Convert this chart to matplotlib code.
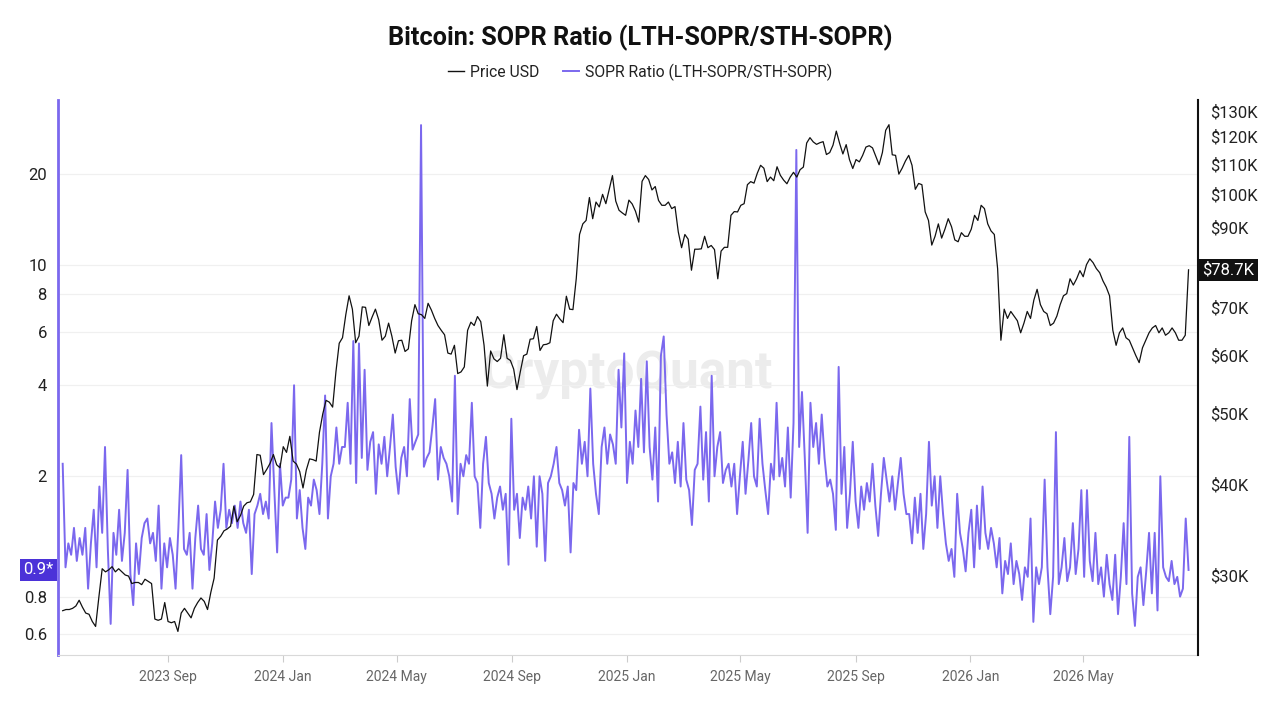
import numpy as np
import pandas as pd
import matplotlib
matplotlib.use("Agg")
import matplotlib.pyplot as plt
from matplotlib.lines import Line2D
from matplotlib.ticker import FixedLocator, FixedFormatter, NullLocator
import matplotlib.transforms as mtransforms

plt.rcParams['font.family'] = ['Roboto', 'DejaVu Sans']

# SOPR ratio, one reading every 3 days from 2023-05-12
sopr = [
    2.2, 1.0, 1.2, 1.1, 1.35, 1.05, 1.25, 1.1, 1.35, 0.85,
    1.2, 1.55, 1.0, 1.85, 1.3, 2.5, 1.15, 0.65, 1.3, 1.1,
    1.55, 1.05, 1.3, 2.1, 0.95, 0.75, 1.2, 0.95, 1.25, 1.4,
    1.45, 1.2, 1.3, 1.05, 1.6, 0.85, 1.2, 1.0, 1.25, 1.1,
    0.85, 1.35, 2.35, 1.15, 1.1, 1.3, 0.85, 1.25, 1.6, 1.15,
    1.1, 1.5, 0.98, 1.2, 1.65, 1.35, 1.55, 2.2, 1.35, 1.55,
    1.4, 1.6, 1.35, 1.65, 1.4, 1.3, 1.55, 0.95, 1.5, 1.6,
    1.75, 1.5, 1.65, 1.45, 3.0, 1.8, 1.12, 2.2, 1.6, 1.7,
    1.7, 1.95, 4.0, 1.45, 1.8, 1.35, 1.15, 1.7, 1.6, 1.95,
    1.8, 1.5, 2.2, 3.7, 1.45, 2.0, 2.2, 2.9, 2.2, 2.5,
    2.5, 3.5, 2.2, 5.6, 1.9, 5.5, 2.3, 4.5, 2.1, 2.6,
    2.8, 1.75, 2.55, 2.2, 2.7, 2.0, 2.5, 3.2, 2.15, 1.75,
    2.3, 2.5, 2.0, 3.6, 2.45, 2.6, 2.75, 29.0, 2.15, 2.3,
    2.4, 2.9, 3.6, 1.95, 2.5, 2.3, 2.2, 2.0, 1.65, 4.3,
    1.5, 2.2, 2.0, 2.35, 2.2, 3.5, 2.0, 1.9, 1.35, 2.2,
    2.7, 1.9, 1.75, 1.45, 1.7, 1.85, 1.55, 1.75, 1.02, 3.1,
    1.55, 1.75, 1.25, 1.7, 1.55, 1.85, 1.45, 2.0, 1.17, 2.0,
    1.75, 1.05, 1.9, 2.0, 2.2, 2.5, 1.9, 1.8, 1.6, 1.85,
    1.12, 1.9, 1.8, 2.85, 2.2, 2.6, 2.0, 3.9, 2.2, 1.75,
    1.5, 2.5, 2.9, 2.2, 2.75, 2.55, 2.2, 4.5, 2.9, 5.1,
    1.9, 2.6, 2.2, 3.3, 2.5, 4.2, 2.4, 4.8, 2.5, 1.95,
    2.9, 1.65, 5.0, 5.8, 3.2, 2.2, 2.4, 1.9, 2.6, 1.85,
    3.0, 1.95, 1.8, 1.38, 2.1, 2.2, 3.4, 1.95, 2.8, 1.65,
    4.3, 2.0, 2.5, 2.8, 1.9, 2.1, 2.2, 1.85, 2.2, 1.5,
    2.0, 2.6, 1.75, 2.25, 3.0, 2.0, 1.85, 3.1, 2.2, 1.8,
    1.5, 2.2, 1.95, 3.5, 2.0, 2.3, 1.85, 2.9, 1.7, 3.0,
    24.0, 2.5, 3.8, 2.3, 1.3, 3.5, 2.5, 3.0, 2.2, 3.2,
    2.3, 1.85, 1.95, 1.75, 1.33, 4.6, 1.75, 2.5, 1.35, 1.75,
    2.6, 1.65, 1.35, 1.85, 1.55, 1.9, 1.65, 2.2, 1.6, 1.27,
    1.75, 2.3, 1.95, 1.65, 2.0, 1.55, 1.9, 2.3, 1.75, 1.5,
    1.5, 1.2, 1.7, 1.3, 1.75, 1.15, 1.5, 2.6, 1.6, 2.0,
    1.35, 2.0, 1.5, 1.2, 1.05, 1.15, 0.93, 1.75, 1.3, 1.15,
    0.97, 1.3, 1.55, 1.0, 1.6, 1.15, 1.85, 1.3, 1.15, 1.35,
    1.2, 1.0, 1.25, 0.82, 1.05, 0.95, 1.2, 0.88, 1.05, 0.95,
    0.78, 1.0, 0.93, 1.45, 0.66, 1.0, 0.88, 1.0, 1.95, 1.0,
    0.7, 0.93, 2.8, 0.88, 1.0, 1.25, 0.9, 1.0, 1.4, 0.95,
    1.15, 1.8, 0.93, 1.8, 1.05, 0.9, 1.3, 0.88, 1.0, 0.8,
    1.1, 0.88, 0.78, 1.1, 0.7, 0.93, 1.4, 0.88, 2.7, 0.82,
    0.64, 0.93, 1.0, 0.75, 0.97, 1.3, 0.82, 1.3, 0.72, 2.0,
    1.0, 0.93, 0.9, 1.05, 0.88, 0.93, 0.8, 0.85, 1.45, 0.98,
]

# BTC price in thousand USD, every 3.5 days from 2023-05-12
price_k = [
    # 2023
    26.8, 26.9, 26.9, 27.0, 27.2, 27.7, 27.1, 26.6, 26.5, 25.9,
    25.5, 28.0, 30.6, 30.3, 30.5, 30.8, 30.3, 30.6, 30.3, 30.0,
    29.9, 29.2, 29.3, 29.3, 29.1, 29.6, 29.4, 29.2, 26.1, 26.0,
    26.1, 27.5, 25.9, 25.8, 25.9, 25.1, 26.6, 27.0, 26.6, 26.2,
    27.0, 27.5, 27.9, 27.6, 26.9, 28.4, 29.7, 33.5, 33.9, 34.5,
    34.7, 35.0, 37.3, 35.5, 36.2, 37.3, 37.7, 37.8, 38.7, 43.9,
    43.8, 41.2, 41.9, 42.7, 43.9, 42.5, 42.1, 45.0,
    # 2024
    44.2, 46.5, 43.0, 42.6, 41.6, 39.5, 41.8, 43.3, 43.2, 43.0,
    47.1, 49.9, 52.1, 51.8, 51.0, 57.0, 62.4, 63.5, 68.3, 72.5,
    69.5, 62.5, 63.8, 70.0, 69.9, 66.0, 67.8, 69.5, 67.2, 63.0,
    63.8, 66.5, 63.8, 60.5, 62.9, 63.0, 60.8, 61.3, 67.0, 70.5,
    68.5, 68.3, 67.5, 70.8, 69.3, 67.5, 66.0, 65.0, 64.1, 60.5,
    60.3, 62.0, 56.7, 57.0, 57.9, 65.0, 66.7, 66.0, 67.9, 66.8,
    62.0, 54.5, 60.9, 59.4, 58.9, 59.5, 64.1, 59.5, 59.1, 57.5,
    53.9, 57.0, 60.0, 60.3, 63.2, 63.3, 65.8, 61.0, 62.1, 62.2,
    62.5, 67.0, 68.4, 67.4, 66.6, 72.4, 69.5, 69.4, 76.5, 88.0,
    91.0, 92.0, 98.9, 92.5, 97.5, 96.0, 99.9, 97.0, 101.4, 106.0,
    97.8, 95.0, 94.2, 93.5,
    # 2025
    98.1, 96.9, 94.7, 91.5, 104.1, 106.0, 104.7, 101.3, 102.4, 98.0,
    96.5, 96.5, 97.5, 95.5, 96.1, 88.7, 84.4, 88.0, 86.7, 78.6,
    84.0, 84.0, 84.1, 87.5, 84.4, 85.0, 83.9, 76.5, 83.5, 84.5,
    84.5, 93.5, 94.6, 94.5, 96.5, 97.0, 103.0, 104.0, 103.5, 106.8,
    109.5, 108.5, 104.0, 105.5, 104.3, 109.0, 106.1, 104.5, 103.3, 105.5,
    107.1, 105.5, 108.0, 108.9, 117.5, 119.5, 117.9, 117.0, 117.6, 118.0,
    113.3, 114.0, 116.7, 122.0, 117.4, 113.5, 116.9, 111.5, 108.4, 111.5,
    110.7, 113.0, 116.0, 116.5, 115.7, 112.7, 109.7, 114.0, 122.3, 124.5,
    113.2, 113.0, 106.5, 108.5, 111.0, 113.0, 109.5, 101.5, 103.4, 103.0,
    94.5, 92.0, 85.1, 87.5, 91.0, 87.0, 89.5, 92.5, 90.2, 86.5,
    86.0, 88.5, 87.5, 87.5,
    # 2026
    89.5, 93.5, 92.0, 96.5, 95.5, 91.0, 89.0, 88.0, 79.0, 63.0,
    69.5, 67.5, 69.0, 68.0, 67.0, 64.5, 66.5, 69.0, 67.5, 71.5,
    74.0, 70.5, 69.0, 68.5, 66.0, 66.5, 68.0, 70.5, 72.5, 73.0,
    76.5, 75.0, 76.5, 78.5, 77.0, 80.0, 81.5, 80.5, 79.0, 78.0,
    76.0, 74.5, 72.5, 65.0, 62.0, 64.5, 65.5, 63.5, 63.0, 61.5,
    60.0, 58.7, 61.5, 63.0, 64.5, 65.5, 66.0, 64.5, 65.5, 64.0,
    64.5, 65.5, 64.5, 63.0, 63.0, 64.0, 78.7,
]

sopr_dates = pd.date_range('2023-05-12', periods=len(sopr), freq='3D')
price_dates = pd.date_range('2023-05-12', periods=len(price_k), freq='84h')
price = np.array(price_k) * 1000

left_ticks = [0.6, 0.8, 2, 4, 6, 8, 10, 20]
left_labels = ['0.6', '0.8', '2', '4', '6', '8', '10', '20']
right_ticks = [30e3, 40e3, 50e3, 60e3, 70e3, 90e3, 100e3, 110e3, 120e3, 130e3]
right_labels = ['$30K', '$40K', '$50K', '$60K', '$70K', '$90K', '$100K', '$110K', '$120K', '$130K']
x_ticks = pd.to_datetime(['2023-09-01', '2024-01-01', '2024-05-01', '2024-09-01', '2025-01-01',
                          '2025-05-01', '2025-09-01', '2026-01-01', '2026-05-01'])
x_labels = ['2023 Sep', '2024 Jan', '2024 May', '2024 Sep', '2025 Jan',
            '2025 May', '2025 Sep', '2026 Jan', '2026 May']

purple = '#7b68ee'

fig = plt.figure(figsize=(12.8, 7.2), dpi=100)
ax = fig.add_axes([0.0453, 0.0903, 0.8906, 0.7708])
ax2 = ax.twinx()

ax.plot(sopr_dates, sopr, color=purple, lw=1.4, zorder=3)
ax2.plot(price_dates, price, color='#111111', lw=0.9, zorder=3)

ax.set_yscale('log')
ax.set_ylim(0.513, 35.1)
ax.yaxis.set_major_locator(FixedLocator(left_ticks))
ax.yaxis.set_major_formatter(FixedFormatter(left_labels))
ax.yaxis.set_minor_locator(NullLocator())
for t in left_ticks:
    ax.axhline(t, color='#f0f0f0', lw=0.9, zorder=1)

ax2.set_yscale('log')
ax2.set_ylim(23300, 134600)
ax2.yaxis.set_major_locator(FixedLocator(right_ticks))
ax2.yaxis.set_major_formatter(FixedFormatter(right_labels))
ax2.yaxis.set_minor_locator(NullLocator())

ax.set_xlim(pd.Timestamp('2023-05-07'), pd.Timestamp('2026-08-31'))
ax.set_xticks(x_ticks)
ax.set_xticklabels(x_labels)

ax.tick_params(axis='y', length=0, pad=8, labelsize=12, labelcolor='#222222')
ax2.tick_params(axis='y', length=0, pad=9, labelsize=12, labelcolor='#222222')
ax.tick_params(axis='x', length=5, color='#cccccc', pad=6, labelsize=10, labelcolor='#666666')

for s in ['top', 'right']:
    ax.spines[s].set_visible(False)
ax.spines['left'].set_color(purple)
ax.spines['left'].set_linewidth(2)
ax.spines['bottom'].set_color('#d9d9d9')
for s in ['top', 'left', 'bottom']:
    ax2.spines[s].set_visible(False)
ax2.spines['right'].set_color('#111111')
ax2.spines['right'].set_linewidth(1.5)

# watermark
ax.text(0.5, 0.505, 'CryptoQuant', transform=ax.transAxes, ha='center', va='center',
        fontsize=37, color='#ececec', fontweight='bold', zorder=0)

# last value labels
trans_l = mtransforms.blended_transform_factory(ax.transAxes, ax.transData)
ax.text(-0.004, sopr[-1], '0.9*', transform=trans_l, ha='right', va='center',
        fontsize=12, color='white',
        bbox=dict(boxstyle='square,pad=0.2', fc='#4b32d8', ec='none'), clip_on=False)
trans_r = mtransforms.blended_transform_factory(ax2.transAxes, ax2.transData)
ax2.text(1.004, price[-1], '$78.7K', transform=trans_r, ha='left', va='center',
         fontsize=12, color='white',
         bbox=dict(boxstyle='square,pad=0.2', fc='#111111', ec='none'), clip_on=False)

fig.text(0.5, 0.947, 'Bitcoin: SOPR Ratio (LTH-SOPR/STH-SOPR)', ha='center', va='center',
         fontsize=18.2, fontweight='bold', color='#111111')

handles = [Line2D([], [], color='#111111', lw=1.0),
           Line2D([], [], color=purple, lw=1.4)]
fig.legend(handles, ['Price USD', 'SOPR Ratio (LTH-SOPR/STH-SOPR)'], loc='center',
           bbox_to_anchor=(0.5, 0.9), ncol=2, frameon=False, fontsize=11.3,
           handlelength=1.0, handletextpad=0.4, columnspacing=1.5, labelcolor='#222222')

fig.savefig('out.png', dpi=100)
